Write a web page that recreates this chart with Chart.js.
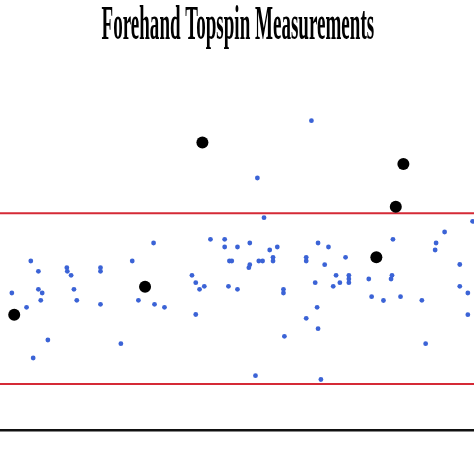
<!DOCTYPE html>
<html>
<head>
<meta charset="utf-8">
<script src="https://cdn.jsdelivr.net/npm/chart.js@4.4.1/dist/chart.umd.min.js"></script>
<style>
  html, body { margin: 0; padding: 0; background: #fff; }
  #wrap { width: 474px; height: 474px; position: relative; }
</style>
</head>
<body>
<div id="wrap"><canvas id="myChart"></canvas></div>
<script>
const chartTitle = "Forehand Topspin Measurements";

// shot position (0-100) and spin (rpm)
const shotX = [
  2.5, 5.6, 6.5, 7.0, 8.1, 8.1, 8.6, 8.9, 10.1, 14.1, 14.2, 15.0, 15.6, 16.2,
  21.2, 21.2, 21.2, 25.5, 27.9, 29.2, 32.4, 32.6, 34.7, 40.5, 41.3, 41.3, 42.1,
  43.1, 44.4, 47.4, 47.4, 48.2, 48.4, 48.9, 50.1, 50.1, 52.5, 52.7, 52.7, 53.9,
  54.3, 54.6, 55.4, 55.7, 56.9, 57.6, 57.6, 58.5, 59.8, 59.8, 60.0, 64.6, 64.6,
  64.6, 65.7, 66.5, 66.9, 67.1, 67.1, 67.7, 68.5, 69.3, 70.3, 70.9, 71.7, 72.9,
  73.6, 73.6, 73.6, 77.8, 78.4, 80.9, 82.5, 82.7, 82.9, 84.5, 89.0, 89.8, 91.8,
  92.0, 93.8, 97.0, 97.0, 98.7, 98.7, 99.7
];
const shotSpin = [
  1810, 1667, 2130, 1160, 2027, 1847, 1737, 1810, 1340, 2063, 2027, 1987, 1847, 1737,
  2063, 2027, 1697, 1303, 2130, 1737, 2310, 1697, 1667, 1987, 1913, 1595, 1847,
  1877, 2347, 2347, 2270, 1877, 2130, 2130, 2270, 1847, 2063, 2093, 2310, 983,
  2960, 2130, 2130, 2563, 2240, 2167, 2130, 2270, 1847, 1810, 1377, 2167, 2130,
  1557, 3533, 1913, 1667, 2310, 1453, 945, 2093, 2270, 1877, 1987, 1913, 2167,
  1987, 1950, 1913, 1950, 1773, 1735, 1950, 1987, 2347, 1773, 1737, 1303, 2240,
  2310, 2420, 2095, 1877, 1810, 1593, 2527
];

// highlighted shots
const markX = [3.0, 30.6, 42.7, 79.4, 83.5, 85.1, 99.2];
const markSpin = [1593, 1873, 3315, 2167, 2673, 3100, 4440];

// control limits and base line
const upperLimit = 2607;
const lowerLimit = 900;
const baseLine = 437;

const xRange = [0, 100];
const yRange = [0, 4290];

function toPoints(xs, ys) {
  return xs.map((x, i) => ({ x: x, y: ys[i] }));
}

function flatLine(value) {
  return [{ x: xRange[0], y: value }, { x: xRange[1], y: value }];
}

// squeeze the title horizontally, like the condensed face in the original
const titleSquash = {
  id: "titleSquash",
  beforeDraw(chart) {
    const block = chart.titleBlock;
    if (!block || block._squashed) return;
    const draw = block.draw.bind(block);
    block.draw = function (area) {
      const ctx = chart.ctx;
      const cx = (block.left + block.right) / 2 + 2;
      ctx.save();
      ctx.translate(cx, 4);
      ctx.scale(0.575, 1);
      ctx.translate(-cx, 0);
      draw(area);
      ctx.restore();
    };
    block._squashed = true;
  },
};

const ctx = document.getElementById("myChart");

const myChart = new Chart(ctx, {
  type: "scatter",
  data: {
    datasets: [
      {
        label: "Upper limit",
        type: "line",
        data: flatLine(upperLimit),
        borderColor: "#d52a36",
        borderWidth: 2,
        pointRadius: 0,
        order: 3,
      },
      {
        label: "Lower limit",
        type: "line",
        data: flatLine(lowerLimit),
        borderColor: "#d52a36",
        borderWidth: 2,
        pointRadius: 0,
        order: 3,
      },
      {
        label: "Base",
        type: "line",
        data: flatLine(baseLine),
        borderColor: "#111111",
        borderWidth: 2.5,
        pointRadius: 0,
        order: 3,
      },
      {
        label: "Shots",
        data: toPoints(shotX, shotSpin),
        backgroundColor: "#3b63d6",
        borderWidth: 0,
        pointRadius: 2.4,
        order: 2,
      },
      {
        label: "Marked",
        data: toPoints(markX, markSpin),
        backgroundColor: "#000000",
        borderWidth: 0,
        pointRadius: 6,
        clip: false,
        order: 1,
      },
    ],
  },
  options: {
    responsive: true,
    maintainAspectRatio: false,
    animation: false,
    layout: { padding: 0, autoPadding: false },
    scales: {
      x: { type: "linear", display: false, min: xRange[0], max: xRange[1] },
      y: { type: "linear", display: false, min: yRange[0], max: yRange[1] },
    },
    plugins: {
      legend: { display: false },
      tooltip: { enabled: false },
      title: {
        display: true,
        text: chartTitle,
        color: "#000000",
        padding: 0,
        font: { family: "Liberation Serif", size: 48, weight: "bold", lineHeight: 0.9375 },
      },
    },
  },
  plugins: [titleSquash],
});
</script>
</body>
</html>
